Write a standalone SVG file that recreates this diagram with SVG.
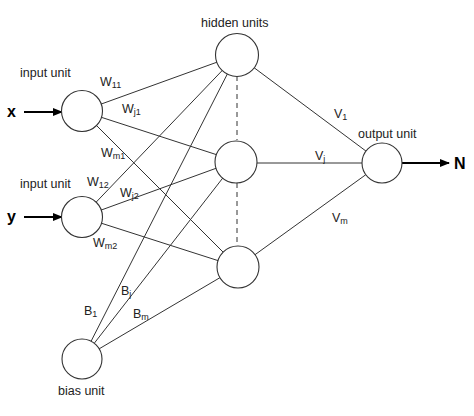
<svg xmlns="http://www.w3.org/2000/svg" width="474" height="416" viewBox="0 0 474 416">
<style>
.node{fill:#fff;stroke:#333;stroke-width:1.1}
.edge{stroke:#333;stroke-width:1;fill:none}
.dash{stroke:#333;stroke-width:1;stroke-dasharray:5,4;fill:none}
.arr{stroke:#000;stroke-width:2.2;fill:none}
.lbl{font-family:"Liberation Sans",Arial,sans-serif;font-size:12.5px;fill:#222}
.w{font-family:"Liberation Sans",Arial,sans-serif;font-size:12.5px;fill:#222}
.sub{font-size:9px}
.big{font-family:"Liberation Sans",Arial,sans-serif;font-size:16px;font-weight:bold;fill:#000}
</style>
<defs>
<marker id="ah" markerWidth="10" markerHeight="8" refX="9" refY="4" orient="auto" markerUnits="userSpaceOnUse">
<path d="M0,0 L10,4 L0,8 Z" fill="#000"/>
</marker>
</defs>
<rect width="474" height="416" fill="#fff"/>
<g id="connectors">
<line class="edge" x1="100.8" y1="104.2" x2="217.2" y2="62.1"/>
<line class="edge" x1="101" y1="117.2" x2="216" y2="154.5"/>
<line class="edge" x1="96.1" y1="125.1" x2="223.2" y2="252.2"/>
<line class="edge" x1="95.8" y1="202.5" x2="222.5" y2="70.2"/>
<line class="edge" x1="100.8" y1="210.2" x2="216.3" y2="168.2"/>
<line class="edge" x1="101" y1="223.1" x2="218" y2="260.6"/>
<line class="edge" x1="91.1" y1="341.2" x2="227.5" y2="73.7"/>
<line class="edge" x1="94.3" y1="343.2" x2="223.1" y2="177.6"/>
<line class="edge" x1="99.2" y1="348.8" x2="219.9" y2="277.7"/>
<line class="edge" x1="253.8" y1="67.5" x2="366" y2="151.1"/>
<line class="edge" x1="257" y1="163" x2="362" y2="163"/>
<line class="edge" x1="255" y1="254.7" x2="365.8" y2="174.7"/>
<line class="dash" x1="237" y1="76" x2="237" y2="140"/>
<line class="dash" x1="237" y1="183" x2="237" y2="246"/>
<line class="arr" x1="24" y1="112" x2="62" y2="112" marker-end="url(#ah)"/>
<line class="arr" x1="24" y1="217" x2="62" y2="217" marker-end="url(#ah)"/>
<line class="arr" x1="402" y1="163" x2="449" y2="163" marker-end="url(#ah)"/>
</g>
<g id="input-x">
<circle class="node" cx="82" cy="111" r="20.5"/>
<text class="lbl" x="20" y="77">input unit</text>
<text class="big" x="7" y="117">x</text>
</g>
<g id="input-y">
<circle class="node" cx="82" cy="217" r="20.5"/>
<text class="lbl" x="20" y="188">input unit</text>
<text class="big" x="7" y="222">y</text>
</g>
<g id="bias">
<circle class="node" cx="82" cy="359" r="20"/>
<text class="lbl" x="58" y="395">bias unit</text>
</g>
<g id="hidden-1">
<circle class="node" cx="237" cy="55" r="21.5"/>
<text class="lbl" x="201" y="27">hidden units</text>
</g>
<g id="hidden-j">
<circle class="node" cx="236" cy="162" r="21"/>
</g>
<g id="hidden-m">
<circle class="node" cx="238" cy="267" r="21"/>
</g>
<g id="output">
<circle class="node" cx="382" cy="163" r="20"/>
<text class="lbl" x="358" y="138">output unit</text>
<text class="big" x="454" y="169">N</text>
</g>
<g id="labels">
<text class="w" x="100" y="86">W<tspan class="sub" dy="1.5">11</tspan></text>
<text class="w" x="122" y="113">W<tspan class="sub" dy="1.5">j1</tspan></text>
<text class="w" x="101" y="157">W<tspan class="sub" dy="1.5">m1</tspan></text>
<text class="w" x="87" y="186">W<tspan class="sub" dy="1.5">12</tspan></text>
<text class="w" x="120" y="197">W<tspan class="sub" dy="1.5">j2</tspan></text>
<text class="w" x="93" y="247">W<tspan class="sub" dy="1.5">m2</tspan></text>
<text class="w" x="84" y="315">B<tspan class="sub" dy="1.5">1</tspan></text>
<text class="w" x="121" y="295">B<tspan class="sub" dy="1.5">j</tspan></text>
<text class="w" x="133" y="318">B<tspan class="sub" dy="1.5">m</tspan></text>
<text class="w" x="334" y="118">V<tspan class="sub" dy="1.5">1</tspan></text>
<text class="w" x="315" y="160">V<tspan class="sub" dy="1.5">j</tspan></text>
<text class="w" x="332" y="222">V<tspan class="sub" dy="1.5">m</tspan></text>
</g>
</svg>
